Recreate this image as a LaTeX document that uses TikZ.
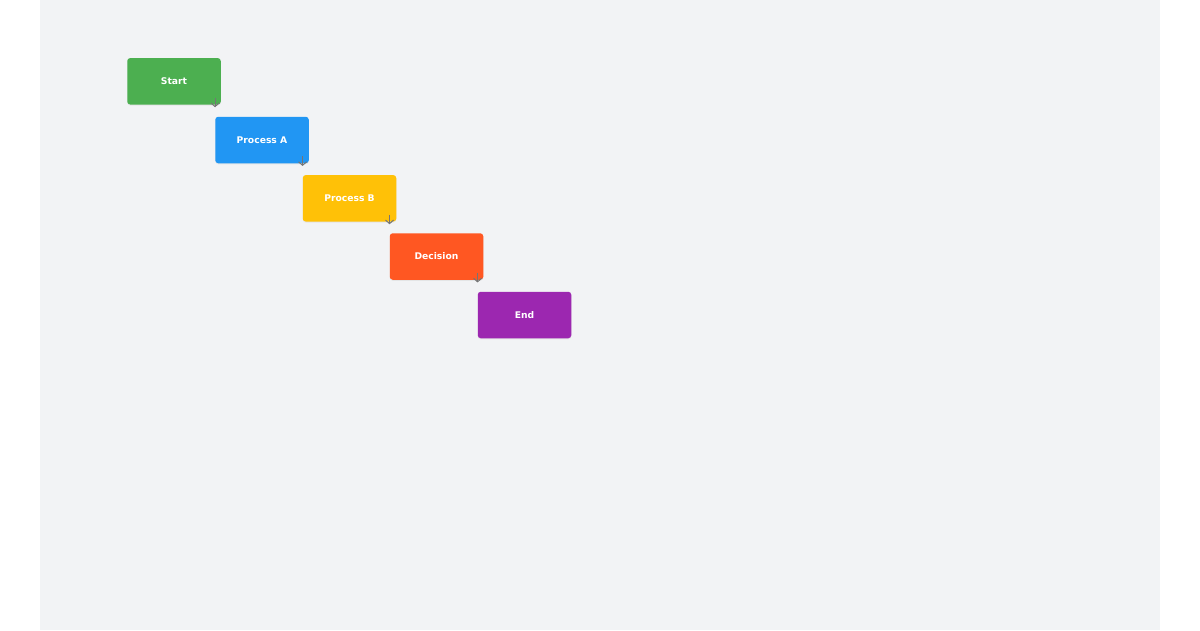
\documentclass[tikz,border=0pt]{standalone}
\usepackage{fontspec}
\setsansfont{DejaVu Sans}
\usetikzlibrary{calc,positioning,shadows,arrows.meta}
\definecolor{panel}{HTML}{F2F3F5}
\definecolor{cgreen}{HTML}{4CAF50}
\definecolor{cblue}{HTML}{2196F3}
\definecolor{cyellow}{HTML}{FFC107}
\definecolor{corange}{HTML}{FF5722}
\definecolor{cpurple}{HTML}{9C27B0}
\definecolor{arr}{HTML}{757575}
\tikzstyle{stepbox}=[shape=rectangle, rounded corners=3pt, minimum width=93.5pt, minimum height=46.5pt,
  text=white, font=\sffamily\bfseries\fontsize{9.2}{11}\selectfont, inner sep=0pt,
  drop shadow={opacity=0.12, shadow xshift=0pt, shadow yshift=-1pt}]
\tikzstyle{link}=[-{Straight Barb[length=3.5pt,width=8pt]}, draw=arr, line width=1pt]

\begin{document}
\begin{tikzpicture}[x=1pt,y=-1pt]

\fill[white] (0,0) rectangle (1200,630);
\fill[panel] (40,0) rectangle (1160,630);
\useasboundingbox (0,0) rectangle (1200,630);

\node (start) [stepbox,fill=cgreen] at (174,81.3) {Start};
\node (procA) [stepbox,fill=cblue] at (262,140) {Process A};
\node (procB) [stepbox,fill=cyellow] at (349.5,198.3) {Process B};
\node (decide) [stepbox,fill=corange] at (436.5,256.5) {Decision};
\node (finish) [stepbox,fill=cpurple] at (524.5,315) {End};

\draw[link] ($(start.south -| procA.west)+(0,-7)$) -- ($(start.south -| procA.west)+(0,2.5)$);
\draw[link] ($(procA.south -| procB.west)+(0,-7)$) -- ($(procA.south -| procB.west)+(0,2.5)$);
\draw[link] ($(procB.south -| decide.west)+(0,-7)$) -- ($(procB.south -| decide.west)+(0,2.5)$);
\draw[link] ($(decide.south -| finish.west)+(0,-7)$) -- ($(decide.south -| finish.west)+(0,2.5)$);

\end{tikzpicture}
\end{document}
